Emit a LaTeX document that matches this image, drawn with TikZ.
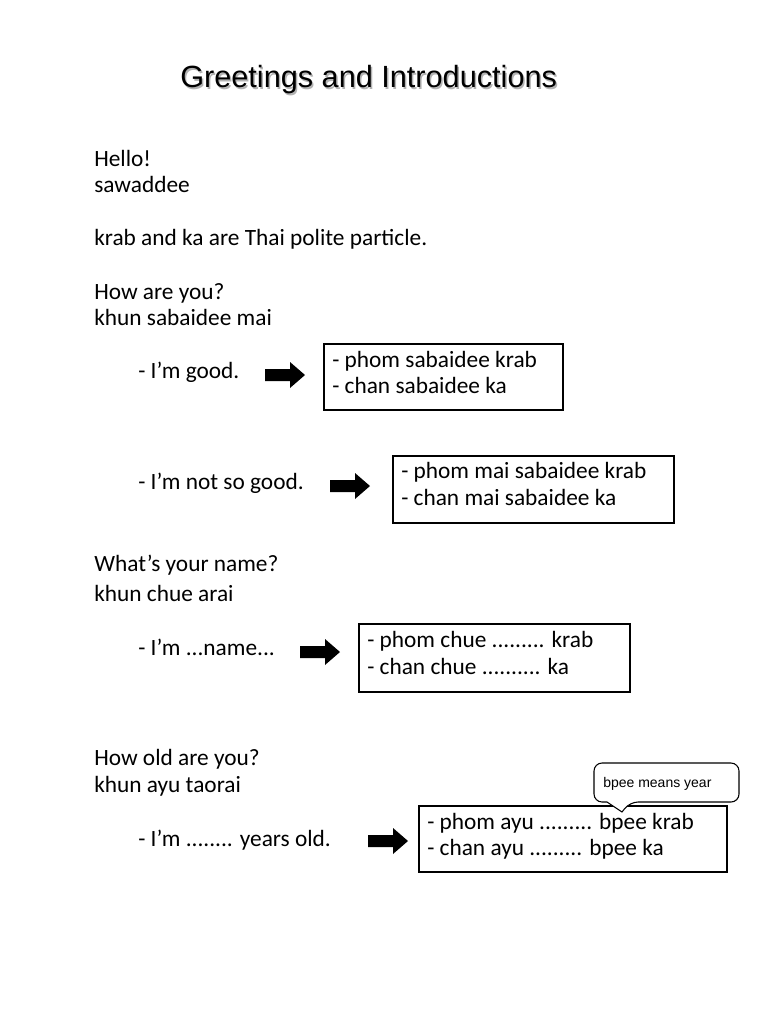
\documentclass[tikz,border=0pt]{standalone}
\usepackage{fontspec}
\setmainfont{Carlito}
\newfontfamily\titlefont{Liberation Sans}
\tikzset{
  line/.style={anchor=base west,inner sep=0pt,font=\fontsize{17.5}{20}\selectfont},
  answerbox/.style={draw,line width=0.8pt},
  fatarrow/.pic={\fill (0,-6) -- (25,-6) -- (25,-13) -- (40,0) -- (25,13) -- (25,6) -- (0,6) -- cycle;}
}
\begin{document}
\begin{tikzpicture}[x=0.75pt,y=0.75pt,yscale=-1,xscale=1]
\useasboundingbox (0,0) rectangle (768,1024);

% Title
\node [anchor=base west,inner sep=0pt,text=black!30,font=\titlefont\fontsize{23}{26}\selectfont] at (181.5,89.5) {Greetings and Introductions};
\node (title) [anchor=base west,inner sep=0pt,font=\titlefont\fontsize{23}{26}\selectfont] at (180,88) {Greetings and Introductions};

% Phrases
\node (hello) [line] at (94,166) {Hello!};
\node (sawad) [line] at (94,192) {sawaddee};
\node (polite) [line] at (94,245) {krab and ka are Thai polite particle.};
\node (howare) [line] at (94,299) {How are you?};
\node (khunsab) [line] at (94,325) {khun sabaidee mai};
\node (good) [line] at (138,378) {- I’m good.};
\node (notgood) [line] at (138,489) {- I’m not so good.};
\node (name) [line] at (94,571) {What’s your name?};
\node (khunchue) [line] at (94,601) {khun chue arai};
\node (imname) [line] at (138,655) {- I’m ...name...};
\node (howold) [line] at (94,765) {How old are you?};
\node (khunayu) [line] at (94,792) {khun ayu taorai};
\node (years) [line] at (138,846) {- I’m ........ years old.};

% Answer boxes
\draw [answerbox] (324,344) rectangle (563,410);
\node (a1) [line] at (332,367) {- phom sabaidee krab};
\node (b1) [line] at (332,393) {- chan sabaidee ka};
\draw [answerbox] (393,456) rectangle (674,523);
\node (a2) [line] at (401,478) {- phom mai sabaidee krab};
\node (b2) [line] at (401,505) {- chan mai sabaidee ka};
\draw [answerbox] (359,624) rectangle (630,692);
\node (a3) [line] at (367,647) {- phom chue ......... krab};
\node (b3) [line] at (367,674) {- chan chue .......... ka};
\draw [answerbox] (419,806) rectangle (727,872);
\node (a4) [line] at (427,829) {- phom ayu ......... bpee krab};
\node (b4) [line] at (427,855) {- chan ayu ......... bpee ka};

% Arrows
\pic at (265,375) {fatarrow};
\pic at (330,486) {fatarrow};
\pic at (300,652) {fatarrow};
\pic at (368,841) {fatarrow};

% Callout
\draw [fill=white,line width=0.8pt,rounded corners=6pt] (607,802) -- (594,802) -- (594,763) -- (739,763) -- (739,802) -- (630,802) [sharp corners] -- (622,812) -- (607,802) -- cycle;
\node (note) [anchor=base west,inner sep=0pt,font=\titlefont\fontsize{10.5}{12}\selectfont] at (603,787) {bpee means year};

\end{tikzpicture}
\end{document}
